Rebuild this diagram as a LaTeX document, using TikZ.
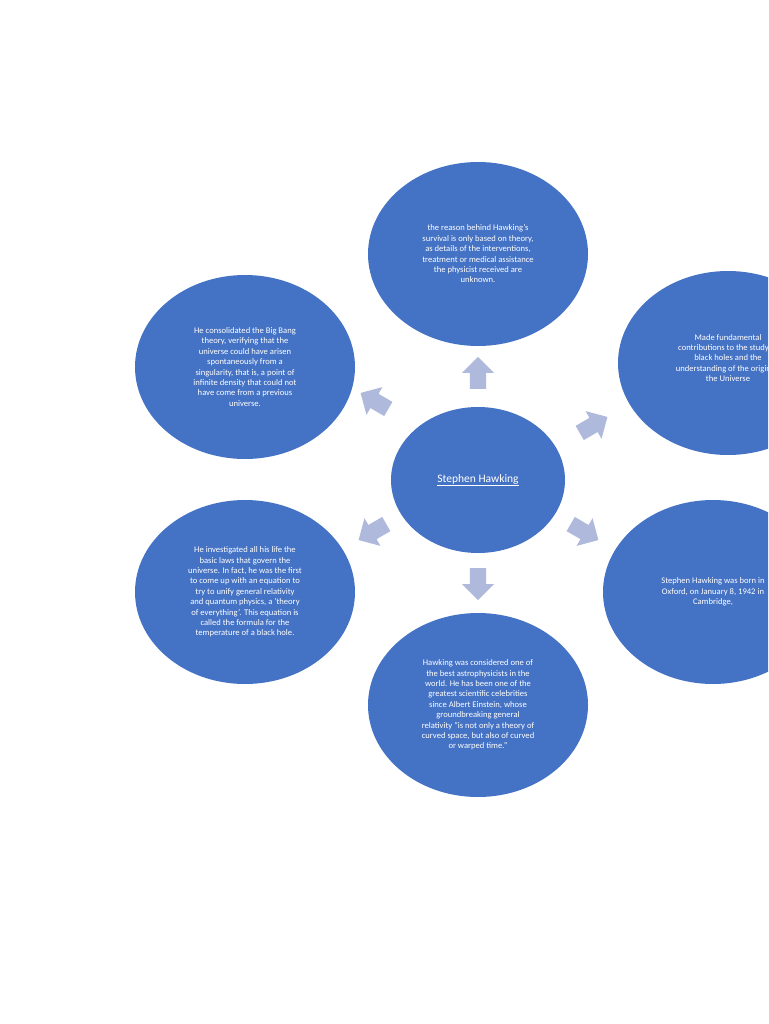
\documentclass[tikz,border=0pt]{standalone}
\usepackage{fontspec}
\setmainfont{Carlito}
\usetikzlibrary{shapes.arrows, shapes.geometric}

\definecolor{bubble}{HTML}{4472C4}
\definecolor{arrowfill}{HTML}{AEB9DC}

\tikzset{
  bubble/.style={ellipse, fill=bubble, minimum width=220pt, minimum height=184pt, inner sep=0pt},
  bubbletext/.style={text=white, align=center, font=\fontsize{8.6}{10.4}\selectfont},
  hub/.style={ellipse, fill=bubble, minimum width=174pt, minimum height=146pt, inner sep=0pt},
  spoke/.style={single arrow, fill=arrowfill, minimum height=32pt, minimum width=32pt,
    single arrow head extend=4pt, inner sep=4pt}
}

\begin{document}
\begin{tikzpicture}[x=1pt, y=-1pt]
\useasboundingbox (0,0) rectangle (768,1024);
\clip (0,0) rectangle (768,1024);

%% centre
\node[hub] (hawking) at (478,480) {};
\node[text=white, font=\fontsize{11.5}{13}\selectfont] at (hawking) {\underline{Stephen Hawking}};

%% outer bubbles
\node[bubble] (survival) at (478,254) {};
\node[bubbletext] at (478,254) {the reason behind Hawking's\\survival is only based on theory,\\as details of the interventions,\\treatment or medical assistance\\the physicist received are\\unknown.};

\node[bubble] (bigbang) at (245,367) {};
\node[bubbletext] at (245,367) {He consolidated the Big Bang\\theory, verifying that the\\universe could have arisen\\spontaneously from a\\singularity, that is, a point of\\infinite density that could not\\have come from a previous\\universe.};

\node[bubble] (blackholes) at (728,363) {};
\node[bubbletext] at (728,358) {Made fundamental\\contributions to the study of\\black holes and the\\understanding of the origin of\\the Universe};

\node[bubble] (laws) at (245,592) {};
\node[bubbletext] at (245,592) {He investigated all his life the\\basic laws that govern the\\universe. In fact, he was the first\\to come up with an equation to\\try to unify general relativity\\and quantum physics, a 'theory\\of everything'. This equation is\\called the formula for the\\temperature of a black hole.};

\node[bubble] (born) at (713,592) {};
\node[bubbletext] at (713,592) {Stephen Hawking was born in\\Oxford, on January 8, 1942 in\\Cambridge,};

\node[bubble] (best) at (478,705) {};
\node[bubbletext] at (478,705) {Hawking was considered one of\\the best astrophysicists in the\\world. He has been one of the\\greatest scientific celebrities\\since Albert Einstein, whose\\groundbreaking general\\relativity "is not only a theory of\\curved space, but also of curved\\or warped time."};

%% spokes
\node[spoke, rotate=90] (toSurvival) at (478,377) {};
\node[spoke, rotate=150] (toBigbang) at (378,403) {};
\node[spoke, rotate=30] (toBlackholes) at (590,427) {};
\node[spoke, rotate=210] (toLaws) at (376,530) {};
\node[spoke, rotate=-30] (toBorn) at (581,530) {};
\node[spoke, rotate=-90] (toBest) at (478,580) {};

\end{tikzpicture}
\end{document}
